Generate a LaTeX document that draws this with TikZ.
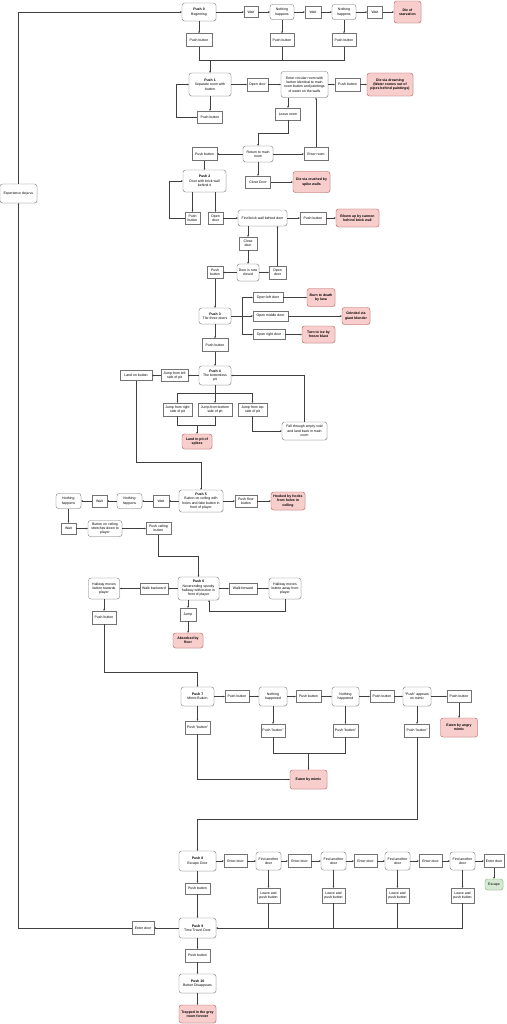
\documentclass[tikz,border=0pt]{standalone}
\usepackage{fontspec}
\setmainfont{Liberation Sans}
\usepackage{tikz}
\usetikzlibrary{arrows.meta,shadows}
\definecolor{rougepale}{HTML}{F8CECC}
\definecolor{rougebord}{HTML}{B85450}
\definecolor{vertpale}{HTML}{D5E8D4}
\definecolor{vertbord}{HTML}{82B366}
\newcommand{\minifont}{\fontsize{3.5}{4.3}\selectfont}
\tikzstyle{action} = [rectangle, draw=black!55, fill=white, align=center, inner sep=0.5pt, font=\minifont, drop shadow={opacity=0.2, shadow xshift=0.5pt, shadow yshift=-0.5pt}]
\tikzstyle{etat} = [action, rounded corners=2.5pt]
\tikzstyle{mort} = [etat, fill=rougepale, draw=rougebord, font=\minifont\bfseries]
\tikzstyle{sortie} = [etat, fill=vertpale, draw=vertbord]

\begin{document}
\begin{tikzpicture}[x=1pt, y=-1pt, >={Stealth[length=2pt,width=1.8pt]}, line width=0.35pt, draw=black!75]

        \useasboundingbox (0,0) rectangle (506,1024);

        \node (p0) [etat, minimum width=34pt, minimum height=18pt] at (199,12) {\textbf{Push 0}\\Beginning};
        \node (w01) [action, minimum width=14pt, minimum height=11pt] at (251,12) {Wait};
        \node (n01) [etat, minimum width=24pt, minimum height=15pt] at (282,12) {Nothing\\happens};
        \node (w02) [action, minimum width=16pt, minimum height=12pt] at (313,12) {Wait};
        \node (n02) [etat, minimum width=24pt, minimum height=15pt] at (344,12) {Nothing\\happens};
        \node (w03) [action, minimum width=15pt, minimum height=12pt] at (375,12) {Wait};
        \node (m0) [mort, minimum width=27pt, minimum height=22pt] at (407.5,12) {Die of\\starvation};
        \node (pb01) [action, minimum width=26pt, minimum height=13pt] at (199,40) {Push button};
        \node (pb02) [action, minimum width=24pt, minimum height=13pt] at (282,40) {Push button};
        \node (pb03) [action, minimum width=24pt, minimum height=13pt] at (344,40) {Push button};

        \node (p1) [etat, minimum width=42pt, minimum height=23pt] at (210,84.5) {\textbf{Push 1}\\Separate room with\\button};
        \node (pb1) [action, minimum width=25pt, minimum height=12pt] at (210,117) {Push button};
        \node (od1) [action, minimum width=21pt, minimum height=13pt] at (257.5,84.5) {Open door};
        \node (cr) [etat, minimum width=47pt, minimum height=26pt] at (304.5,84.5) {Enter circular room with\\button identical to main\\room button and paintings\\of water on the walls};
        \node (pb1b) [action, minimum width=25pt, minimum height=13pt] at (347.5,84.5) {Push button};
        \node (m1) [mort, minimum width=46pt, minimum height=23pt] at (390,84.5) {Die via drowning\\(Water comes out of\\pipes behind paintings)};
        \node (lr) [action, minimum width=25pt, minimum height=12pt] at (288,114) {Leave room};
        \node (rm) [etat, minimum width=30pt, minimum height=16pt] at (258,154) {Return to main\\room};
        \node (er) [action, minimum width=24pt, minimum height=13pt] at (316,154) {Enter room};
        \node (pb2a) [action, minimum width=25pt, minimum height=13pt] at (204.5,154) {Push button};
        \node (cd1) [action, minimum width=25pt, minimum height=12pt] at (258,182) {Close Door};
        \node (m2) [mort, minimum width=37pt, minimum height=21pt] at (311.5,182) {Die via crushed by\\spike walls};

        \node (dv) [etat, minimum width=37pt, minimum height=19pt] at (18.5,193.5) {Experience deja vu};

        \node (p2) [etat, minimum width=43pt, minimum height=22pt] at (204.5,181) {\textbf{Push 2}\\Door with brick wall\\behind it};
        \node (pb2) [action, minimum width=15pt, minimum height=12pt] at (192.5,218) {Push\\button};
        \node (od2) [action, minimum width=15pt, minimum height=12pt] at (215.5,218) {Open\\door};
        \node (fb) [etat, minimum width=49pt, minimum height=16pt] at (262.5,218) {Find brick wall behind door};
        \node (pb2b) [action, minimum width=26pt, minimum height=12pt] at (313,218) {Push button};
        \node (m3) [mort, minimum width=43pt, minimum height=18pt] at (357.5,218) {Blown up by cannon\\behind brick wall};
        \node (cd2) [action, minimum width=18pt, minimum height=13pt] at (248,243.5) {Close\\door};
        \node (dc) [etat, minimum width=22pt, minimum height=17pt] at (248,272.5) {Door is now\\closed};
        \node (od3) [action, minimum width=17pt, minimum height=13pt] at (277.5,272.5) {Open\\door};
        \node (pb3a) [action, minimum width=16pt, minimum height=12pt] at (215,272.5) {Push\\button};

        \node (p3) [etat, minimum width=32pt, minimum height=16pt] at (215,316) {\textbf{Push 3}\\The three doors};
        \node (ol) [action, minimum width=30pt, minimum height=10pt] at (268,297.5) {Open left door};
        \node (om) [action, minimum width=35pt, minimum height=10pt] at (270.5,316) {Open middle door};
        \node (orr) [action, minimum width=32pt, minimum height=10pt] at (269,334.5) {Open right door};
        \node (m4) [mort, minimum width=28pt, minimum height=18pt] at (321,297.5) {Burn to death\\by lava};
        \node (m5) [mort, minimum width=28pt, minimum height=17pt] at (356,316) {Grinded via\\giant blender};
        \node (m6) [mort, minimum width=33pt, minimum height=17pt] at (318.5,334.5) {Turn to ice by\\freeze blast};
        \node (pb3) [action, minimum width=26pt, minimum height=13pt] at (215,345) {Push button};

        \node (p4) [etat, minimum width=32pt, minimum height=19pt] at (215,375.5) {\textbf{Push 4}\\The bottomless\\pit};
        \node (jl) [action, minimum width=27pt, minimum height=12pt] at (174.5,375.5) {Jump from left\\side of pit};
        \node (lb) [action, minimum width=32pt, minimum height=10pt] at (136,375.5) {Land on button};
        \node (jr) [action, minimum width=29pt, minimum height=13pt] at (177.5,409.5) {Jump from right\\side of pit};
        \node (jb) [action, minimum width=34pt, minimum height=13pt] at (215,409.5) {Jump from bottom\\side of pit};
        \node (jt) [action, minimum width=29pt, minimum height=13pt] at (252.5,409.5) {Jump from top\\side of pit};
        \node (ls) [mort, minimum width=30pt, minimum height=15pt] at (197,441.5) {Land in pit of\\spikes};
        \node (fv) [etat, minimum width=45pt, minimum height=18pt] at (304.5,431) {Fall through empty void\\and land back in main\\room};

        \node (p5) [etat, minimum width=44pt, minimum height=22pt] at (201,501) {\textbf{Push 5}\\Button on ceiling with\\holes and fake button in\\front of player};
        \node (pf) [action, minimum width=22pt, minimum height=12pt] at (246,501) {Push floor\\button};
        \node (m7) [mort, minimum width=34pt, minimum height=18pt] at (288,501) {Hooked by hooks\\from holes in\\ceiling};
        \node (w51) [action, minimum width=16pt, minimum height=12pt] at (161,501) {Wait};
        \node (n51) [etat, minimum width=25pt, minimum height=15pt] at (129.5,501) {Nothing\\happens};
        \node (w52) [action, minimum width=15pt, minimum height=12pt] at (99.5,501) {Wait};
        \node (n52) [etat, minimum width=25pt, minimum height=15pt] at (68.5,501) {Nothing\\happens};
        \node (w53) [action, minimum width=15pt, minimum height=11pt] at (68.5,528.5) {Wait};
        \node (bs) [etat, minimum width=34pt, minimum height=16pt] at (105,528.5) {Button on ceiling\\stretches down to\\player};
        \node (pc) [action, minimum width=25pt, minimum height=12pt] at (158.5,528.5) {Push ceiling\\button};

        \node (p6) [etat, minimum width=41pt, minimum height=23pt] at (198.5,588.5) {\textbf{Push 6}\\Neverending spooky\\hallway with button in\\front of player};
        \node (wf) [action, minimum width=28pt, minimum height=11pt] at (243,588.5) {Walk forward};
        \node (hf) [etat, minimum width=32pt, minimum height=21pt] at (285,588.5) {Hallway moves\\button away from\\player};
        \node (wb) [action, minimum width=28pt, minimum height=11pt] at (154,588.5) {Walk backward};
        \node (hb) [etat, minimum width=31pt, minimum height=21pt] at (104,588.5) {Hallway moves\\button towards\\player};
        \node (pb6) [action, minimum width=24pt, minimum height=13pt] at (104,617.5) {Push button};
        \node (j6) [action, minimum width=16pt, minimum height=13pt] at (188,614.5) {Jump};
        \node (af) [mort, minimum width=30pt, minimum height=15pt] at (188,640.5) {Absorbed by\\floor};

        \node (p7) [etat, minimum width=33pt, minimum height=19pt] at (197.5,696.5) {\textbf{Push 7}\\Mimic Button};
        \node (pb71) [action, minimum width=24pt, minimum height=12pt] at (237,696.5) {Push button};
        \node (nh71) [etat, minimum width=28pt, minimum height=19pt] at (273,696.5) {Nothing\\happened};
        \node (pb72) [action, minimum width=25pt, minimum height=12pt] at (308.5,696.5) {Push button};
        \node (nh72) [etat, minimum width=27pt, minimum height=19pt] at (345.5,696.5) {Nothing\\happened};
        \node (pb73) [action, minimum width=24pt, minimum height=12pt] at (382,696.5) {Push button};
        \node (pm) [etat, minimum width=28pt, minimum height=19pt] at (417,696.5) {"Push" appears\\on mimic};
        \node (pb74) [action, minimum width=24pt, minimum height=12pt] at (459,696.5) {Push button};
        \node (m8) [mort, minimum width=37pt, minimum height=19pt] at (459,727.5) {Eaten by angry\\mimic};
        \node (pq0) [action, minimum width=25pt, minimum height=13pt] at (197.5,727.5) {Push "button"};
        \node (pq1) [action, minimum width=24pt, minimum height=13pt] at (273,730.5) {Push "button"};
        \node (pq2) [action, minimum width=25pt, minimum height=13pt] at (345.5,730.5) {Push "button"};
        \node (pq3) [action, minimum width=25pt, minimum height=13pt] at (417,730.5) {Push "button"};
        \node (m9) [mort, minimum width=37pt, minimum height=19pt] at (308.5,779.5) {Eaten by mimic};

        \node (p8) [etat, minimum width=37pt, minimum height=20pt] at (197.5,861) {\textbf{Push 8}\\Escape Door};
        \node (ed1) [action, minimum width=23pt, minimum height=13pt] at (235.5,861) {Enter door};
        \node (fa1) [etat, minimum width=25pt, minimum height=18pt] at (268.5,861) {Find another\\door};
        \node (ed2) [action, minimum width=23pt, minimum height=13pt] at (299.5,861) {Enter door};
        \node (fa2) [etat, minimum width=25pt, minimum height=18pt] at (333.5,861) {Find another\\door};
        \node (ed3) [action, minimum width=23pt, minimum height=13pt] at (365.5,861) {Enter door};
        \node (fa3) [etat, minimum width=25pt, minimum height=18pt] at (397.5,861) {Find another\\door};
        \node (ed4) [action, minimum width=23pt, minimum height=13pt] at (430.5,861) {Enter door};
        \node (fa4) [etat, minimum width=25pt, minimum height=18pt] at (462.5,861) {Find another\\door};
        \node (ed5) [action, minimum width=20pt, minimum height=13pt] at (494,861) {Enter door};
        \node (esc) [sortie, minimum width=18pt, minimum height=11pt] at (494,884.5) {Escape};
        \node (lp1) [action, minimum width=23pt, minimum height=15pt] at (268.5,895.5) {Leave and\\push button};
        \node (lp2) [action, minimum width=23pt, minimum height=15pt] at (333.5,895.5) {Leave and\\push button};
        \node (lp3) [action, minimum width=23pt, minimum height=15pt] at (397.5,895.5) {Leave and\\push button};
        \node (lp4) [action, minimum width=23pt, minimum height=15pt] at (462.5,895.5) {Leave and\\push button};
        \node (pb8) [action, minimum width=25pt, minimum height=11pt] at (197.5,888.5) {Push button};

        \node (p9) [etat, minimum width=37pt, minimum height=20pt] at (197.5,928) {\textbf{Push 9}\\Time Travel Door};
        \node (ed0) [action, minimum width=22pt, minimum height=13pt] at (143,928) {Enter door};
        \node (pb9) [action, minimum width=25pt, minimum height=13pt] at (197.5,955.5) {Push button};
        \node (p10) [etat, minimum width=37pt, minimum height=19pt] at (197.5,983.5) {\textbf{Push 10}\\Button Disappears};
        \node (m10) [mort, minimum width=37pt, minimum height=18pt] at (197.5,1014) {Trapped in the grey\\room forever};

        \coordinate (j1) at (210,60);
        \coordinate (b1) at (176,84.5);
        \coordinate (b2) at (169,181);
        \coordinate (b3) at (242,316);
        \coordinate (b4) at (215,393);
        \coordinate (b5) at (197,425);
        \coordinate (b6) at (136,462);
        \coordinate (b7) at (158.5,556);
        \coordinate (b8) at (285,611);
        \coordinate (b9) at (209,611);
        \coordinate (b10) at (104,672);
        \coordinate (b11) at (308.5,753);
        \coordinate (b12) at (417,819);

        \draw[->] (p0) -- (w01);
        \draw[->] (w01) -- (n01);
        \draw[->] (n01) -- (w02);
        \draw[->] (w02) -- (n02);
        \draw[->] (n02) -- (w03);
        \draw[->] (w03) -- (m0);
        \draw[->] (p0) -- (pb01);
        \draw[->] (n01) -- (pb02);
        \draw[->] (n02) -- (pb03);
        \draw (pb01) |- (j1);
        \draw (pb02) |- (j1);
        \draw (pb03) |- (j1);
        \draw[->] (j1) -- (p1);

        \draw[->] (p1) -- (pb1);
        \draw[->] (pb1) -| (b1) -- (p1);
        \draw[->] (p1) -- (od1);
        \draw[->] (od1) -- (cr);
        \draw[->] (cr) -- (pb1b);
        \draw[->] (pb1b) -- (m1);
        \draw[->] (cr.south -| lr) -- (lr);
        \draw[->] (lr) -- ++(0,19) -| (rm);
        \draw[->] (rm) -- (er);
        \draw[->] (er) -- (er |- cr.south);
        \draw[->] (rm) -- (pb2a);
        \draw[->] (rm) -- (cd1);
        \draw[->] (cd1) -- (m2);
        \draw[->] (pb2a) -- (p2);

        \draw[->] (p2.south -| pb2) -- (pb2);
        \draw[->] (p2.south -| od2) -- (od2);
        \draw[->] (pb2) -| (b2) -- (p2);
        \draw[->] (od2) -- (fb);
        \draw[->] (fb) -- (pb2b);
        \draw[->] (pb2b) -- (m3);
        \draw[->] (fb.south -| cd2) -- (cd2);
        \draw[->] (cd2) -- (dc);
        \draw[->] (dc) -- (od3);
        \draw[->] (od3) -- (od3 |- fb.south);
        \draw[->] (dc) -- (pb3a);
        \draw[->] (pb3a) -- (p3);

        \draw (p3) -- (b3);
        \draw[->] (b3) |- (ol);
        \draw[->] (b3) -- (om);
        \draw[->] (b3) |- (orr);
        \draw[->] (ol) -- (m4);
        \draw[->] (om) -- (m5);
        \draw[->] (orr) -- (m6);
        \draw[->] (p3) -- (pb3);
        \draw[->] (pb3) -- (p4);

        \draw[->] (p4) -- (jl);
        \draw[->] (jl) -- (lb);
        \draw (p4) -- (b4);
        \draw[->] (b4) -| (jr);
        \draw[->] (b4) -- (jb);
        \draw[->] (b4) -| (jt);
        \draw (jr) |- (b5);
        \draw (jb) |- (b5);
        \draw[->] (b5) -- (ls);
        \draw[->] (jt) |- (fv);
        \draw[->] (fv) |- (p4);
        \draw[->] (lb) -- (b6) -| (p5);

        \draw[->] (p5) -- (pf);
        \draw[->] (pf) -- (m7);
        \draw[->] (p5) -- (w51);
        \draw[->] (w51) -- (n51);
        \draw[->] (n51) -- (w52);
        \draw[->] (w52) -- (n52);
        \draw[->] (n52) -- (w53);
        \draw[->] (w53) -- (bs);
        \draw[->] (bs) -- (pc);
        \draw[->] (pc) -- (b7) -| (p6);

        \draw[->] (p6) -- (wf);
        \draw[->] (wf) -- (hf);
        \draw[->] (hf) -- (b8) -- (b9) -- (b9 |- p6.south);
        \draw[->] (p6) -- (wb);
        \draw[->] (wb) -- (hb);
        \draw[->] (hb) -- (pb6);
        \draw[->] (pb6) -- (b10) -| (p7);
        \draw[->] (p6.south -| j6) -- (j6);
        \draw[->] (j6) -- (af);

        \draw[->] (p7) -- (pb71);
        \draw[->] (pb71) -- (nh71);
        \draw[->] (nh71) -- (pb72);
        \draw[->] (pb72) -- (nh72);
        \draw[->] (nh72) -- (pb73);
        \draw[->] (pb73) -- (pm);
        \draw[->] (pm) -- (pb74);
        \draw[->] (pb74) -- (m8);
        \draw[->] (p7) -- (pq0);
        \draw[->] (nh71) -- (pq1);
        \draw[->] (nh72) -- (pq2);
        \draw[->] (pm) -- (pq3);
        \draw (pq1) |- (b11);
        \draw (pq2) |- (b11);
        \draw[->] (b11) -- (m9);
        \draw[->] (pq0) |- (m9);
        \draw[->] (pq3) -- (b12) -| (p8);

        \draw[->] (p8) -- (ed1);
        \draw[->] (ed1) -- (fa1);
        \draw[->] (fa1) -- (ed2);
        \draw[->] (ed2) -- (fa2);
        \draw[->] (fa2) -- (ed3);
        \draw[->] (ed3) -- (fa3);
        \draw[->] (fa3) -- (ed4);
        \draw[->] (ed4) -- (fa4);
        \draw[->] (fa4) -- (ed5);
        \draw[->] (ed5) -- (esc);
        \draw[->] (fa1) -- (lp1);
        \draw[->] (fa2) -- (lp2);
        \draw[->] (fa3) -- (lp3);
        \draw[->] (fa4) -- (lp4);
        \draw (lp1) -- (lp1 |- p9);
        \draw (lp2) -- (lp2 |- p9);
        \draw (lp3) -- (lp3 |- p9);
        \draw[->] (lp4) |- (p9);
        \draw[->] (p8) -- (pb8);
        \draw[->] (pb8) -- (p9);

        \draw[->] (p9) -- (ed0);
        \draw[->] (ed0) -| (dv);
        \draw[->] (dv) |- (p0);
        \draw[->] (p9) -- (pb9);
        \draw[->] (pb9) -- (p10);
        \draw[->] (p10) -- (m10);

    \end{tikzpicture}
\end{document}
